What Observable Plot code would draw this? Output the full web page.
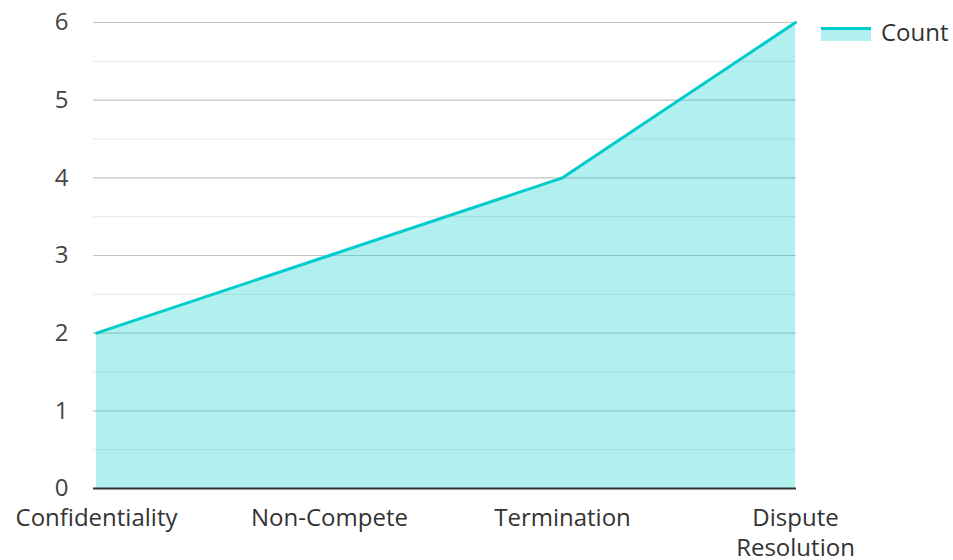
<!DOCTYPE html>
<html><head><meta charset="utf-8">
<script src="https://cdn.jsdelivr.net/npm/d3@7"></script>
<script src="https://cdn.jsdelivr.net/npm/@observablehq/plot@0.6"></script>
<style>
body{margin:0;background:#fff;font-family:"Open Sans",sans-serif;}
#wrap{position:relative;width:953px;height:560px;}
#legend{position:absolute;left:821px;top:15px;display:flex;align-items:center;font-size:24px;color:#333;}
#legend .sw{width:50px;height:16px;position:relative;margin-right:10px;}
#legend .sw .a{position:absolute;left:0;top:5px;width:50px;height:12px;background:#b2f0f0;}
#legend .sw .l{position:absolute;left:0;top:3px;width:50px;height:3px;background:#00cccc;}
</style></head>
<body><div id="wrap"><div id="legend"><div class="sw"><div class="a"></div><div class="l"></div></div><span>Count</span></div></div>
<script>
const categories = ["Confidentiality","Non-Compete","Termination","Dispute Resolution"];
const counts = [2, 3, 4, 6];
const majorTicks = [1,2,3,4,5,6];
const minorTicks = [0.5,1.5,2.5,3.5,4.5,5.5];
const seriesName = "Count";

const data = categories.map((c,i)=>({category:c, value:counts[i]}));

const chart = Plot.plot({
  width: 953, height: 560,
  marginLeft: 95, marginRight: 157, marginTop: 22, marginBottom: 72,
  style: {fontFamily: '"Open Sans", sans-serif', fontSize: "24px", color: "#333", background: "#fff"},
  x: {type: "point", domain: categories, padding: 0},
  y: {domain: [0, 6]},
  marks: [
    Plot.ruleY(minorTicks, {stroke: "#e6e6e6", strokeWidth: 1, insetLeft: -2}),
    Plot.ruleY(majorTicks, {stroke: "#c4c4c4", strokeWidth: 1.2, insetLeft: -2}),
    Plot.areaY(data, {x: "category", y: "value", fill: "#00cccc", fillOpacity: 0.3}),
    Plot.lineY(data, {x: "category", y: "value", stroke: "#00cccc", strokeWidth: 3}),
    Plot.ruleY([0], {stroke: "#333", strokeWidth: 2, insetLeft: -2}),
    Plot.axisY({ticks: [0,...majorTicks], tickFormat: "d", tickSize: 0, tickPadding: 27, label: null, fill: "#444", fontSize: 24}),
    Plot.axisX({tickSize: 0, tickPadding: 16, label: null, fill: "#333", fontSize: 24, lineHeight: 1.25,
      tickFormat: d => d === "Dispute Resolution" ? "Dispute\nResolution" : d, lineAnchor: "top"})
  ]
});
document.getElementById("wrap").prepend(chart);
</script>
</body></html>
